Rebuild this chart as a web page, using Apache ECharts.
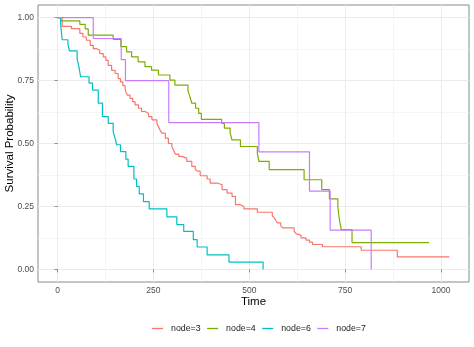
<!DOCTYPE html>
<html>
<head>
<meta charset="utf-8">
<script src="https://cdn.jsdelivr.net/npm/echarts@6/dist/echarts.min.js"></script>
<style>
  html, body { margin: 0; padding: 0; background: #ffffff; }
  #chart { width: 474px; height: 347px; }
</style>
</head>
<body>
<div id="chart"></div>
<script>
// Kaplan-Meier survival estimates per node group (time, survival probability)
const node3Time = [0, 12, 36, 58, 66, 75, 85, 93, 101, 110, 119, 126, 132, 141, 150, 158, 164, 170, 176, 178, 182, 189, 196, 202, 211, 219, 228, 237, 246, 259, 263, 267, 272, 281, 289, 298, 302, 307, 316, 324, 337, 350, 359, 364, 372, 390, 398, 416, 429, 442, 455, 464, 477, 486, 521, 560, 565, 569, 574, 582, 587, 617, 622, 626, 635, 648, 657, 665, 691, 792, 886, 1022];
const node3Surv = [1.00, 0.965, 0.956, 0.937, 0.923, 0.91, 0.89, 0.877, 0.87, 0.857, 0.844, 0.83, 0.81, 0.79, 0.778, 0.758, 0.745, 0.73, 0.719, 0.706, 0.692, 0.679, 0.666, 0.653, 0.64, 0.627, 0.62, 0.607, 0.594, 0.58, 0.567, 0.554, 0.541, 0.521, 0.50, 0.488, 0.475, 0.458, 0.449, 0.442, 0.429, 0.409, 0.398, 0.39, 0.372, 0.359, 0.343, 0.336, 0.317, 0.303, 0.29, 0.257, 0.25, 0.24, 0.227, 0.214, 0.205, 0.195, 0.185, 0.174, 0.165, 0.152, 0.142, 0.135, 0.125, 0.116, 0.108, 0.099, 0.09, 0.076, 0.05, 0.05];

const node4Time = [0, 8, 58, 72, 80, 145, 165, 180, 193, 210, 228, 245, 263, 293, 306, 340, 345, 350, 360, 368, 375, 428, 435, 450, 455, 477, 521, 525, 552, 643, 689, 709, 731, 733, 736, 740, 768, 969];
const node4Surv = [1.0, 0.987, 0.973, 0.955, 0.930, 0.913, 0.885, 0.864, 0.844, 0.824, 0.805, 0.791, 0.772, 0.752, 0.732, 0.71, 0.686, 0.66, 0.64, 0.62, 0.596, 0.58, 0.561, 0.541, 0.514, 0.488, 0.462, 0.429, 0.396, 0.356, 0.317, 0.28, 0.25, 0.22, 0.19, 0.158, 0.106, 0.106];

const node6Time = [0, 8, 12, 27, 31, 51, 55, 60, 82, 91, 106, 117, 132, 145, 150, 154, 164, 178, 184, 199, 206, 213, 224, 239, 285, 311, 329, 354, 364, 390, 447, 536];
const node6Surv = [1.0, 0.971, 0.912, 0.895, 0.868, 0.835, 0.81, 0.765, 0.74, 0.712, 0.66, 0.607, 0.58, 0.547, 0.521, 0.495, 0.468, 0.438, 0.409, 0.359, 0.33, 0.30, 0.269, 0.24, 0.209, 0.178, 0.151, 0.118, 0.089, 0.058, 0.029, 0];

const node7Time = [0, 93, 166, 177, 290, 525, 657, 711, 818];
const node7Surv = [1.0, 0.917, 0.833, 0.75, 0.583, 0.467, 0.311, 0.156, 0];

const groupNames = ['node=3', 'node=4', 'node=6', 'node=7'];
const groupColors = ['#F8766D', '#7CAE00', '#00BFC4', '#C77CFF'];

const xTicks = [0, 250, 500, 750, 1000];
const xMinor = [125, 375, 625, 875];
const yTicks = [0, 0.25, 0.5, 0.75, 1];
const yMinor = [0.125, 0.375, 0.625, 0.875];

const X_MIN = -51.1, X_MAX = 1073.1;
const Y_MIN = -0.05, Y_MAX = 1.05;

function pairs(t, s) { return t.map((v, i) => [v, s[i]]); }
const curves = [pairs(node3Time, node3Surv), pairs(node4Time, node4Surv),
                pairs(node6Time, node6Surv), pairs(node7Time, node7Surv)];

const FONT = 'Liberation Sans, Arial, Helvetica, sans-serif';
const BORDER = '#8a8a8a';

const chart = echarts.init(document.getElementById('chart'), null, { renderer: 'canvas' });

const hidden = { show: false };
function minorAxis(values, min, max) {
  return {
    type: 'value', min: min, max: max, gridIndex: 0,
    axisLine: hidden, axisLabel: hidden,
    axisTick: { show: false, customValues: values },
    splitLine: { show: true, lineStyle: { color: '#f3f3f3', width: 0.8 } }
  };
}

chart.setOption({
  animation: false,
  backgroundColor: '#ffffff',
  textStyle: { fontFamily: FONT },
  grid: { left: 38, top: 5, right: 5, bottom: 65, show: true, borderColor: BORDER, borderWidth: 1,
          backgroundColor: 'transparent', containLabel: false, outerBoundsMode: 'none' },
  xAxis: [
    minorAxis(xMinor, X_MIN, X_MAX),
    {
      type: 'value', min: X_MIN, max: X_MAX, gridIndex: 0, position: 'bottom',
      name: 'Time', nameLocation: 'middle', nameGap: 14, nameMoveOverlap: false,
      nameTextStyle: { fontSize: 11.5, color: '#000000', fontFamily: FONT },
      axisLine: { show: false },
      axisTick: { show: true, length: 3, customValues: xTicks, lineStyle: { color: BORDER } },
      axisLabel: { customValues: xTicks, color: '#4d4d4d', fontSize: 8.5, margin: 4, fontFamily: FONT,
                   formatter: v => String(v) },
      splitLine: { show: true, lineStyle: { color: '#ebebeb', width: 1 } }
    }
  ],
  yAxis: [
    minorAxis(yMinor, Y_MIN, Y_MAX),
    {
      type: 'value', min: Y_MIN, max: Y_MAX, gridIndex: 0, position: 'left',
      name: 'Survival Probability', nameLocation: 'middle', nameGap: 22, nameMoveOverlap: false,
      nameTextStyle: { fontSize: 11.5, color: '#000000', fontFamily: FONT },
      axisLine: { show: false },
      axisTick: { show: true, length: 3, customValues: yTicks, lineStyle: { color: BORDER } },
      axisLabel: { customValues: yTicks, color: '#4d4d4d', fontSize: 8.5, margin: 4, fontFamily: FONT,
                   formatter: v => v.toFixed(2) },
      splitLine: { show: true, lineStyle: { color: '#ebebeb', width: 1 } }
    }
  ],
  legend: {
    bottom: 9, left: 147,
    icon: 'rect',
    itemWidth: 11, itemHeight: 1.3, itemGap: 6.5,
    textStyle: { fontSize: 8.8, color: '#1a1a1a', fontFamily: FONT, padding: [0, 0, 0, 3] },
    data: groupNames
  },
  series: curves.map((data, i) => ({
    name: groupNames[i],
    type: 'line',
    xAxisIndex: 1, yAxisIndex: 1,
    step: 'end',
    symbol: 'none',
    data: data,
    color: groupColors[i],
    lineStyle: { color: groupColors[i], width: 1.2 },
    z: 3 + i
  }))
});
</script>
</body>
</html>
